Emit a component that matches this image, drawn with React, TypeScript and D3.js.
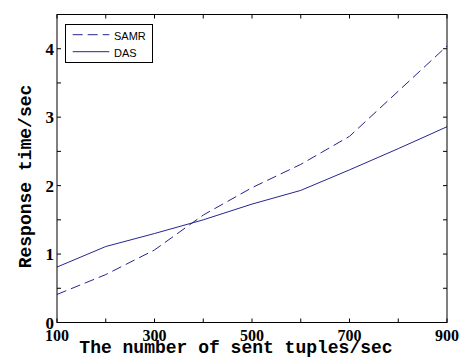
import React from "react";
import * as d3 from "d3";

const xValues = [100, 200, 300, 400, 500, 600, 700, 800, 900];
const samr = [0.41, 0.7, 1.06, 1.57, 1.97, 2.31, 2.72, 3.38, 4.04];
const das = [0.81, 1.11, 1.3, 1.5, 1.73, 1.93, 2.23, 2.54, 2.86];
const xTickLabels = [100, 300, 500, 700, 900];
const yTickLabels = [0, 1, 2, 3, 4];
const seriesNames = ["SAMR", "DAS"];

const W = 474, H = 357;
const L = 57, R = 447, T = 14.5, B = 322.5;
const color = "#25258f";

export default function App() {
  const x = d3.scaleLinear().domain([100, 900]).range([L, R]);
  const y = d3.scaleLinear().domain([0, 4.5]).range([B, T]);
  const line = d3.line<number>().x((_, i) => x(xValues[i])).y((d) => y(d));
  const xTicks = d3.range(100, 901, 100);
  const yTicks = d3.range(0, 4.51, 0.5);
  const tl = 4;
  return (
    <svg width={W} height={H} style={{ position: "absolute", left: 0, top: 0, background: "#fff" }}>
      <rect x={0} y={0} width={W} height={H} fill="#fff" />
      <path d={line(samr) || ""} fill="none" stroke={color} strokeWidth={1} strokeDasharray="10,5" />
      <path d={line(das) || ""} fill="none" stroke={color} strokeWidth={1} />
      <rect x={L} y={T} width={R - L} height={B - T} fill="none" stroke="#000" strokeWidth={1} />
      {xTicks.map((t) => (
        <g key={"xt" + t}>
          <line x1={x(t)} x2={x(t)} y1={B} y2={B - tl} stroke="#000" />
          <line x1={x(t)} x2={x(t)} y1={T} y2={T + tl} stroke="#000" />
        </g>
      ))}
      {yTicks.map((t) => (
        <g key={"yt" + t}>
          <line x1={L} x2={L + tl} y1={y(t)} y2={y(t)} stroke="#000" />
          <line x1={R} x2={R - tl} y1={y(t)} y2={y(t)} stroke="#000" />
        </g>
      ))}
      {xTickLabels.map((t) => (
        <text key={"xl" + t} x={x(t)} y={341} textAnchor="middle" fontFamily="Liberation Serif" fontWeight="bold" fontSize={16} fill="#000">
          {t}
        </text>
      ))}
      {yTickLabels.map((t) => (
        <text key={"yl" + t} x={54} y={y(t) + 6} textAnchor="end" fontFamily="Liberation Serif" fontWeight="bold" fontSize={17} fill="#000">
          {t}
        </text>
      ))}
      <text x={236} y={353} textAnchor="middle" fontFamily="Liberation Mono" fontWeight="bold" fontSize={18} fill="#000">
        The number of sent tuples/sec
      </text>
      <text transform="translate(31,176.5) rotate(-90)" textAnchor="middle" fontFamily="Liberation Mono" fontWeight="bold" fontSize={18} fill="#000">
        Response time/sec
      </text>
      <rect x={65.5} y={24.5} width={87} height={38} fill="#fff" stroke="#000" strokeWidth={1} />
      <line x1={72.7} x2={109.3} y1={34.7} y2={34.7} stroke={color} strokeWidth={1} strokeDasharray="10,5" />
      <line x1={72.7} x2={109.3} y1={51.7} y2={51.7} stroke={color} strokeWidth={1} />
      <text x={114} y={39.5} fontFamily="Liberation Sans" fontSize={11} fill="#000">{seriesNames[0]}</text>
      <text x={114} y={56.5} fontFamily="Liberation Sans" fontSize={11} fill="#000">{seriesNames[1]}</text>
    </svg>
  );
}
